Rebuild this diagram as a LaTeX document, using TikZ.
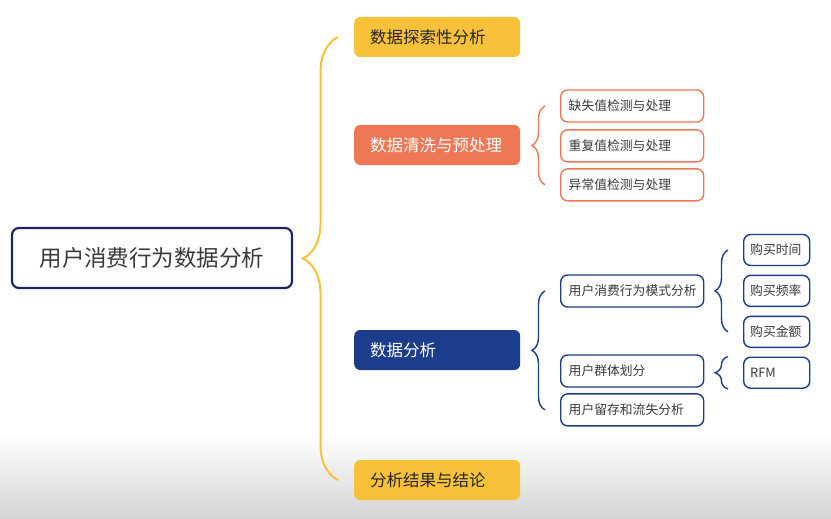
\documentclass[tikz,border=0pt]{standalone}
\usepackage{fontspec}
\setmainfont{Noto Sans CJK SC}
\usepackage{tikz}
\usetikzlibrary{positioning,decorations.pathreplacing}
\definecolor{gold}{HTML}{F8C13A}
\definecolor{coral}{HTML}{EE7855}
\definecolor{navy}{HTML}{1C3C8C}
\definecolor{ink}{HTML}{1E2466}
\definecolor{txt}{HTML}{3A3A3A}
\definecolor{dark}{HTML}{262626}

\begin{document}
\begin{tikzpicture}[
  x=1pt,y=-1pt,
  root/.style={draw=ink,line width=2.2pt,fill=white,rounded corners=7pt,minimum width=280pt,minimum height=60pt,text=txt,font=\fontsize{22.5}{26}\selectfont},
  stage/.style={rounded corners=6pt,minimum height=40pt,text width=134pt,inner xsep=16pt,align=left,anchor=west,font=\fontsize{16.5}{19}\selectfont},
  subo/.style={draw=coral,line width=1.4pt,fill=white,rounded corners=7pt,minimum height=32pt,text width=127pt,inner xsep=8pt,align=left,text=txt,font=\fontsize{12.8}{15}\selectfont},
  subn/.style={subo,draw=navy},
  leaf/.style={subn,minimum height=31pt,text width=53pt,inner xsep=6.5pt},
  brc/.style={decorate,decoration={brace,amplitude=13pt},line width=1.4pt},
]
\useasboundingbox (0,0) rectangle (831,519);
\shade[top color=white,bottom color=black!17] (0,435) rectangle (831,519);
% root and stages
\node[root] (root) at (152,258) {用户消费行为数据分析};
\node[stage,fill=gold,text=dark] (ex) at (354,37) {数据探索性分析};
\node[stage,fill=coral,text=white] (clean) at (354,145) {数据清洗与预处理};
\node[stage,fill=navy,text=white] (ana) at (354,350) {数据分析};
\node[stage,fill=gold,text=dark] (res) at (354,480) {分析结果与结论};
% cleaning steps
\node[subo,anchor=west] (m1) at (560,106) {缺失值检测与处理};
\node[subo,below=6.5pt of m1] (m2) {重复值检测与处理};
\node[subo,below=5.5pt of m2] (m3) {异常值检测与处理};
% analysis steps
\node[subn,anchor=west] (u1) at (560,291) {用户消费行为模式分析};
\node[subn,anchor=west] (u2) at (560,371) {用户群体划分};
\node[subn,below=5.5pt of u2] (u3) {用户留存和流失分析};
\node[leaf,anchor=west] (p1) at (743,250) {购买时间};
\node[leaf,below=8.5pt of p1] (p2) {购买频率};
\node[leaf,below=8.5pt of p2] (p3) {购买金额};
\node[leaf,below=8.5pt of p3] (rfm) {RFM};
% braces
\draw[brc,gold,line width=2pt,decoration={amplitude=35pt}] ([xshift=-16pt]res.west) -- ([xshift=-16pt]ex.west);
\draw[brc,coral] ([xshift=-15pt]m3.west) -- ([xshift=-15pt]m1.west);
\draw[brc,navy] ([xshift=-15pt]u3.west) -- ([xshift=-15pt]u1.west);
\draw[brc,navy] ([xshift=-15pt]p3.west) -- ([xshift=-15pt]p1.west);
\draw[brc,navy] ([xshift=-15pt]rfm.south west) -- ([xshift=-15pt]rfm.north west);
\end{tikzpicture}
\end{document}
